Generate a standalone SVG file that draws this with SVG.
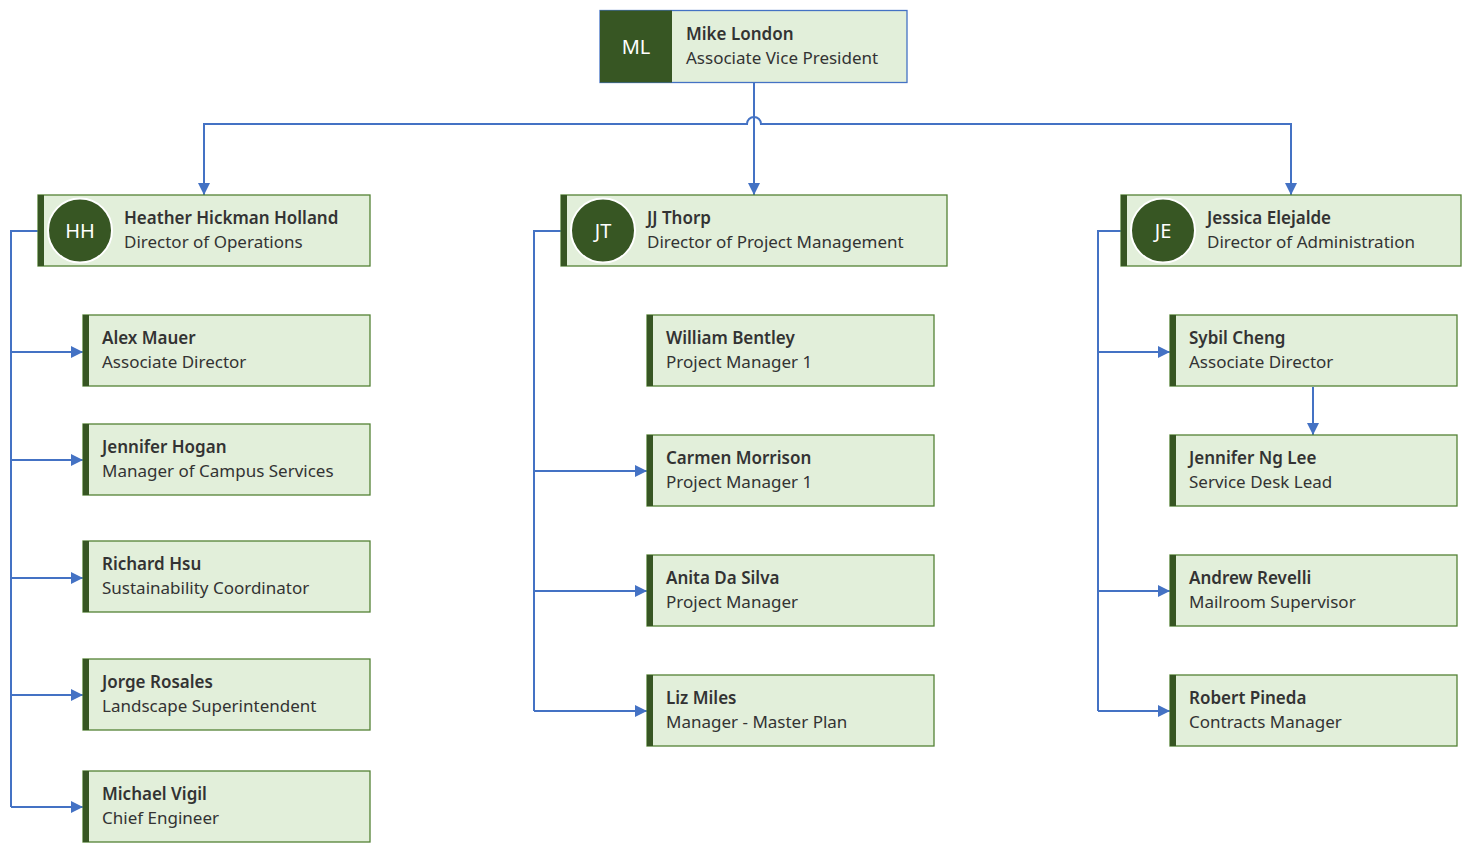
<svg xmlns="http://www.w3.org/2000/svg" width="1472" height="853" viewBox="0 0 1472 853">
<defs>
<marker id="ar" viewBox="0 0 10 10" refX="10" refY="5" markerWidth="6" markerHeight="6" orient="auto" markerUnits="strokeWidth"><path d="M0,0L10,5L0,10z" fill="#4472c4"/></marker>
<style>
.box{fill:#e2efda;stroke:#548235;stroke-width:1.3}
.bar{fill:#375623}
.n{font-family:"Noto Sans","Open Sans",sans-serif;font-size:17px;font-weight:600;fill:#333}
.t{font-family:"Noto Sans","Open Sans",sans-serif;font-size:17px;fill:#333}
.i{font-family:"Noto Sans","Open Sans",sans-serif;font-size:20px;fill:#fff;text-anchor:middle}
.c{fill:none;stroke:#4472c4;stroke-width:2}
</style>
</defs>
<rect width="1472" height="853" fill="#fff"/>
<g id="connectors">
<path class="c" d="M754,82V195" marker-end="url(#ar)"/>
<path class="c" d="M204,187V124H747a7,7 0 0 1 14,0H1291V187" />
<path class="c" d="M204,124V195" marker-end="url(#ar)"/>
<path class="c" d="M1291,124V195" marker-end="url(#ar)"/>
<path class="c" d="M38,231H11V807"/>
<path class="c" d="M11,352H83" marker-end="url(#ar)"/>
<path class="c" d="M11,460H83" marker-end="url(#ar)"/>
<path class="c" d="M11,578H83" marker-end="url(#ar)"/>
<path class="c" d="M11,695H83" marker-end="url(#ar)"/>
<path class="c" d="M11,807H83" marker-end="url(#ar)"/>
<path class="c" d="M561,231H534V711"/>
<path class="c" d="M534,471H647" marker-end="url(#ar)"/>
<path class="c" d="M534,591H647" marker-end="url(#ar)"/>
<path class="c" d="M534,711H647" marker-end="url(#ar)"/>
<path class="c" d="M1121,231H1098V711"/>
<path class="c" d="M1098,352H1170" marker-end="url(#ar)"/>
<path class="c" d="M1098,591H1170" marker-end="url(#ar)"/>
<path class="c" d="M1098,711H1170" marker-end="url(#ar)"/>
<path class="c" d="M1313,387V435" marker-end="url(#ar)"/>
</g>
<g id="ml"><rect x="600" y="10.5" width="307" height="72" fill="#e2efda" stroke="#4472c4" stroke-width="1.3"/><rect class="bar" x="600" y="10.5" width="72" height="72"/><text class="i" x="636" y="54">ML</text><text class="n" x="686" y="40">Mike London</text><text class="t" x="686" y="64">Associate Vice President</text></g>
<g id="hh"><rect class="box" x="38" y="195" width="332" height="71"/><rect class="bar" x="38" y="195" width="6" height="71"/><circle cx="80" cy="230.5" r="32" fill="#375623" stroke="#fff" stroke-width="2"/><text class="i" x="80" y="238">HH</text><text class="n" x="124" y="224">Heather Hickman Holland</text><text class="t" x="124" y="248">Director of Operations</text></g>
<g id="jt"><rect class="box" x="561" y="195" width="386" height="71"/><rect class="bar" x="561" y="195" width="6" height="71"/><circle cx="603" cy="230.5" r="32" fill="#375623" stroke="#fff" stroke-width="2"/><text class="i" x="603" y="238">JT</text><text class="n" x="647" y="224">JJ Thorp</text><text class="t" x="647" y="248">Director of Project Management</text></g>
<g id="je"><rect class="box" x="1121" y="195" width="340" height="71"/><rect class="bar" x="1121" y="195" width="6" height="71"/><circle cx="1163" cy="230.5" r="32" fill="#375623" stroke="#fff" stroke-width="2"/><text class="i" x="1163" y="238">JE</text><text class="n" x="1207" y="224">Jessica Elejalde</text><text class="t" x="1207" y="248">Director of Administration</text></g>
<g id="am"><rect class="box" x="83" y="315" width="287" height="71"/><rect class="bar" x="83" y="315" width="6" height="71"/><text class="n" x="102" y="344">Alex Mauer</text><text class="t" x="102" y="368">Associate Director</text></g>
<g id="jh"><rect class="box" x="83" y="424" width="287" height="71"/><rect class="bar" x="83" y="424" width="6" height="71"/><text class="n" x="102" y="453">Jennifer Hogan</text><text class="t" x="102" y="477">Manager of Campus Services</text></g>
<g id="rh"><rect class="box" x="83" y="541" width="287" height="71"/><rect class="bar" x="83" y="541" width="6" height="71"/><text class="n" x="102" y="570">Richard Hsu</text><text class="t" x="102" y="594">Sustainability Coordinator</text></g>
<g id="jr"><rect class="box" x="83" y="659" width="287" height="71"/><rect class="bar" x="83" y="659" width="6" height="71"/><text class="n" x="102" y="688">Jorge Rosales</text><text class="t" x="102" y="712">Landscape Superintendent</text></g>
<g id="mv"><rect class="box" x="83" y="771" width="287" height="71"/><rect class="bar" x="83" y="771" width="6" height="71"/><text class="n" x="102" y="800">Michael Vigil</text><text class="t" x="102" y="824">Chief Engineer</text></g>
<g id="wb"><rect class="box" x="647" y="315" width="287" height="71"/><rect class="bar" x="647" y="315" width="6" height="71"/><text class="n" x="666" y="344">William Bentley</text><text class="t" x="666" y="368">Project Manager 1</text></g>
<g id="cm"><rect class="box" x="647" y="435" width="287" height="71"/><rect class="bar" x="647" y="435" width="6" height="71"/><text class="n" x="666" y="464">Carmen Morrison</text><text class="t" x="666" y="488">Project Manager 1</text></g>
<g id="ad"><rect class="box" x="647" y="555" width="287" height="71"/><rect class="bar" x="647" y="555" width="6" height="71"/><text class="n" x="666" y="584">Anita Da Silva</text><text class="t" x="666" y="608">Project Manager</text></g>
<g id="lm"><rect class="box" x="647" y="675" width="287" height="71"/><rect class="bar" x="647" y="675" width="6" height="71"/><text class="n" x="666" y="704">Liz Miles</text><text class="t" x="666" y="728">Manager - Master Plan</text></g>
<g id="sc"><rect class="box" x="1170" y="315" width="287" height="71"/><rect class="bar" x="1170" y="315" width="6" height="71"/><text class="n" x="1189" y="344">Sybil Cheng</text><text class="t" x="1189" y="368">Associate Director</text></g>
<g id="jn"><rect class="box" x="1170" y="435" width="287" height="71"/><rect class="bar" x="1170" y="435" width="6" height="71"/><text class="n" x="1189" y="464">Jennifer Ng Lee</text><text class="t" x="1189" y="488">Service Desk Lead</text></g>
<g id="ar2"><rect class="box" x="1170" y="555" width="287" height="71"/><rect class="bar" x="1170" y="555" width="6" height="71"/><text class="n" x="1189" y="584">Andrew Revelli</text><text class="t" x="1189" y="608">Mailroom Supervisor</text></g>
<g id="rp"><rect class="box" x="1170" y="675" width="287" height="71"/><rect class="bar" x="1170" y="675" width="6" height="71"/><text class="n" x="1189" y="704">Robert Pineda</text><text class="t" x="1189" y="728">Contracts Manager</text></g>
</svg>
